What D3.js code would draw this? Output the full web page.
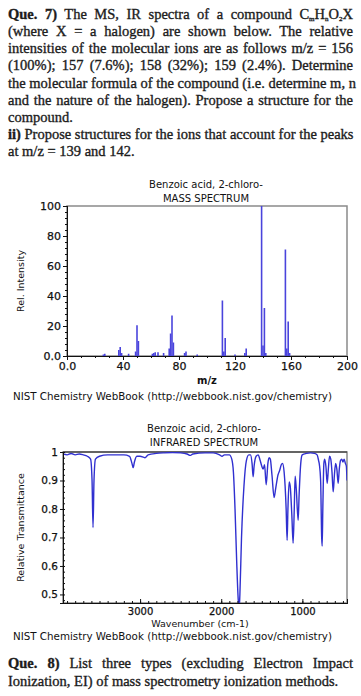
<!DOCTYPE html>
<html>
<head>
<meta charset="utf-8">
<script src="https://cdn.jsdelivr.net/npm/d3@7"></script>
<style>
    body { margin: 0; background: #fff; }
    #page { position: relative; width: 361px; height: 696px; overflow: hidden; background: #fff; }
    .q {
        position: absolute; left: 8px; width: 345px;
        font-family: "Liberation Serif", "Times New Roman", serif;
        font-size: 14.5px; line-height: 17px; color: #1c1c1c;
        -webkit-text-stroke: 0.35px #1c1c1c;
        white-space: nowrap; text-align: justify; text-align-last: justify;
    }
    .q.left { text-align-last: left; }
    .q b { font-weight: bold; }
    .q sub { font-size: 7px; vertical-align: -2px; line-height: 0; }
    svg { position: absolute; left: 0; top: 0; }
    .ax text { font-family: "DejaVu Sans", Verdana, sans-serif; fill: #111; stroke: #111; stroke-width: 0.25px; }
    .ax path, .ax line { stroke: #111; }
    .lbl { font-family: "DejaVu Sans", Verdana, sans-serif; fill: #111; }
</style>
</head>
<body>
<div id="page">
    <div class="q" style="top:6px"><b>Que. 7)</b> The MS, IR spectra of a compound C<sub>m</sub>H<sub>n</sub>O<sub>2</sub>X</div>
    <div class="q" style="top:23px">(where X = a halogen) are shown below. The relative</div>
    <div class="q" style="top:40px">intensities of the molecular ions are as follows m/z = 156</div>
    <div class="q" style="top:57px">(100%); 157 (7.6%); 158 (32%); 159 (2.4%). Determine</div>
    <div class="q" style="top:75px">the molecular formula of the compound (i.e. determine m, n</div>
    <div class="q" style="top:92px">and the nature of the halogen). Propose a structure for the</div>
    <div class="q left" style="top:109px">compound.</div>
    <div class="q" style="top:126px"><b>ii)</b> Propose structures for the ions that account for the peaks</div>
    <div class="q left" style="top:143px">at m/z = 139 and 142.</div>

    <div class="q" style="top:655px"><b>Que. 8)</b> List three types (excluding Electron Impact</div>
    <div class="q left" style="top:673px">Ionization, EI) of mass spectrometry ionization methods.</div>
</div>
<script>
// Mass spectrum: m/z and relative intensity (%)
const msMz = [26, 27, 37, 38, 39, 44, 49, 50, 51, 61, 62, 63, 65, 69, 73, 74, 75, 76, 84, 85, 93,
    111, 112, 113, 120, 127, 128, 139, 140, 141, 142, 156, 157, 158, 159];
const msIntensity = [1, 1.5, 4, 6, 2, 1.5, 3, 20.5, 10, 1.5, 2, 2.5, 2.5, 2, 5, 15, 27, 9, 2, 3, 1,
    37, 3, 12, 1, 2, 5, 100, 7, 32, 2, 71, 5, 23, 2];
const msYTicks = [0, 20, 40, 60, 80, 100];
const msXTicks = [0, 40, 80, 120, 160, 200];

// Infrared spectrum: wavenumber (cm-1) and relative transmittance
const irWavenumber = [3950, 3900, 3850, 3800, 3750, 3700, 3650, 3610, 3592, 3580, 3568, 3550, 3500, 3400,
    3300, 3200, 3130, 3100, 3086, 3070, 3040, 3000, 2960, 2940, 2900, 2800, 2700, 2600, 2500, 2420,
    2384, 2350, 2200, 2100, 2020, 1990, 1960, 1900, 1870, 1850, 1830, 1810, 1790, 1779, 1770, 1750,
    1720, 1690, 1660, 1640, 1620, 1607, 1595, 1570, 1545, 1520, 1500, 1483, 1466, 1446, 1425, 1410,
    1395, 1375, 1348, 1330, 1300, 1280, 1260, 1245, 1225, 1200, 1188, 1178, 1163, 1150, 1130, 1114,
    1100, 1089, 1075, 1052, 1040, 1020, 1002, 950, 900, 850, 818, 800, 790, 775, 762, 756, 748, 735,
    725, 710, 694, 680, 665, 650, 635, 620, 605, 590, 575, 559, 545, 530, 515, 500, 485, 470, 458, 450];
const irTransmittance = [0.993, 0.99, 0.995, 0.99, 0.993, 0.99, 0.985, 0.975, 0.9, 0.735, 0.9, 0.975, 0.985, 0.99,
    0.99, 0.99, 0.985, 0.96, 0.945, 0.965, 0.985, 0.985, 0.982, 0.98, 0.99, 0.995, 0.997, 0.998, 0.997, 0.993,
    0.988, 0.993, 0.997, 0.997, 0.99, 0.985, 0.99, 0.99, 0.975, 0.93, 0.8, 0.62, 0.48, 0.45, 0.5, 0.7,
    0.88, 0.97, 0.99, 0.99, 0.96, 0.913, 0.95, 0.985, 0.99, 0.97, 0.95, 0.94, 0.955, 0.885, 0.96, 0.98,
    0.975, 0.92, 0.84, 0.87, 0.92, 0.935, 0.955, 0.96, 0.93, 0.8, 0.69, 0.8, 0.895, 0.88, 0.78, 0.68,
    0.8, 0.915, 0.87, 0.76, 0.85, 0.96, 0.99, 0.995, 0.997, 0.995, 0.99, 0.97, 0.955, 0.9, 0.7, 0.67, 0.8, 0.96,
    0.975, 0.95, 0.89, 0.94, 0.985, 0.975, 0.93, 0.86, 0.92, 0.96, 0.94, 0.89, 0.94, 0.97, 0.975, 0.965, 0.975, 0.96, 0.95, 0.9];
const irYTicks = [0.5, 0.6, 0.7, 0.8, 0.9, 1];
const irXTicks = [3000, 2000, 1000];

const svg = d3.select('#page').append('svg')
    .attr('width', 361)
    .attr('height', 696);

const caption = 'NIST Chemistry WebBook (http://webbook.nist.gov/chemistry)';

// ---------- MASS SPECTRUM ----------
const msX = d3.scaleLinear().domain([0, 200]).range([67, 347]);
const msY = d3.scaleLinear().domain([0, 100]).range([356, 206]);

svg.append('text').attr('class', 'lbl').attr('x', 206).attr('y', 188)
    .attr('text-anchor', 'middle').style('font-size', '10px').text('Benzoic acid, 2-chloro-');
svg.append('text').attr('class', 'lbl').attr('x', 206).attr('y', 202)
    .attr('text-anchor', 'middle').style('font-size', '10px').text('MASS SPECTRUM');

// gray frame
svg.append('rect')
    .attr('x', msX(0)).attr('y', msY(100))
    .attr('width', msX(200) - msX(0)).attr('height', msY(0) - msY(100))
    .attr('fill', 'none').attr('stroke', '#8a8a8a').attr('stroke-width', 1.5);

// peaks
svg.append('g').selectAll('line')
    .data(msMz)
    .join('line')
    .attr('x1', d => msX(d)).attr('x2', d => msX(d))
    .attr('y1', msY(0))
    .attr('y2', (d, i) => msY(msIntensity[i]))
    .attr('stroke', '#4a44dc')
    .attr('stroke-width', 1.6);

// axes
const fmtMs = d => d === 0 ? '0.0' : d;
svg.append('g').attr('class', 'ax').style('font-size', '11px').attr('transform', `translate(${msX(0)},0)`)
    .call(d3.axisLeft(msY).tickValues(msYTicks).tickSize(4).tickPadding(2).tickFormat(fmtMs))
    .selectAll('text').style('font-size', '11px');
svg.append('g').attr('class', 'ax').attr('transform', `translate(${msX(0)},0)`)
    .call(d3.axisLeft(msY).tickValues(d3.range(0, 101, 4)).tickSize(2).tickFormat(''));
svg.append('g').attr('class', 'ax').attr('transform', `translate(0,${msY(0)})`)
    .call(d3.axisBottom(msX).tickValues(msXTicks).tickSize(4).tickPadding(2).tickFormat(fmtMs))
    .selectAll('text').style('font-size', '11px');
svg.append('g').attr('class', 'ax').attr('transform', `translate(0,${msY(0)})`)
    .call(d3.axisBottom(msX).tickValues(d3.range(0, 201, 10)).tickSize(2).tickFormat(''));

svg.append('text').attr('class', 'lbl')
    .attr('transform', `translate(24,${(msY(0) + msY(100)) / 2}) rotate(-90)`)
    .attr('text-anchor', 'middle').style('font-size', '9.5px').text('Rel. Intensity');
svg.append('text').attr('class', 'lbl').attr('x', 207).attr('y', 384)
    .attr('text-anchor', 'middle').style('font-size', '10px').style('font-weight', 'bold').text('m/z');
svg.append('text').attr('class', 'lbl').attr('x', 13).attr('y', 400)
    .style('font-size', '10.3px').text(caption);

// ---------- INFRARED SPECTRUM ----------
const irX = d3.scaleLinear().domain([3950, 450]).range([63, 347]);
const irY = d3.scaleLinear().domain([0.47, 1]).range([603, 452]);

svg.append('text').attr('class', 'lbl').attr('x', 204).attr('y', 432)
    .attr('text-anchor', 'middle').style('font-size', '10px').text('Benzoic acid, 2-chloro-');
svg.append('text').attr('class', 'lbl').attr('x', 204).attr('y', 446)
    .attr('text-anchor', 'middle').style('font-size', '10px').text('INFRARED SPECTRUM');

svg.append('clipPath').attr('id', 'irClip')
    .append('rect')
    .attr('x', irX(3950)).attr('y', irY(1))
    .attr('width', irX(450) - irX(3950)).attr('height', irY(0.47) - irY(1));

svg.append('rect')
    .attr('x', irX(3950)).attr('y', irY(1))
    .attr('width', irX(450) - irX(3950)).attr('height', irY(0.47) - irY(1))
    .attr('fill', 'none').attr('stroke', '#8a8a8a').attr('stroke-width', 1.5);
svg.append('line')
    .attr('x1', irX(3950)).attr('x2', irX(450)).attr('y1', irY(1)).attr('y2', irY(1))
    .attr('stroke', '#222').attr('stroke-width', 1.2);

const irLine = d3.line()
    .x((d, i) => irX(irWavenumber[i]))
    .y((d, i) => irY(irTransmittance[i]))
    .curve(d3.curveMonotoneX);

svg.append('path')
    .datum(irWavenumber)
    .attr('clip-path', 'url(#irClip)')
    .attr('d', irLine)
    .attr('fill', 'none')
    .attr('stroke', '#3030d0')
    .attr('stroke-width', 1.4);

const fmtIr = d => d === 1 ? '1' : d3.format('.1f')(d);
svg.append('g').attr('class', 'ax').attr('transform', `translate(${irX(3950)},0)`)
    .call(d3.axisLeft(irY).tickValues(irYTicks).tickSize(3).tickPadding(2).tickFormat(fmtIr))
    .selectAll('text').style('font-size', '10.5px');
svg.append('g').attr('class', 'ax').attr('transform', `translate(${irX(3950)},0)`)
    .call(d3.axisLeft(irY).tickValues(d3.range(0.48, 1.001, 0.02)).tickSize(-2).tickFormat(''));
svg.append('g').attr('class', 'ax').attr('transform', `translate(0,${irY(0.47)})`)
    .call(d3.axisBottom(irX).tickValues(irXTicks).tickSize(-4).tickPadding(5).tickFormat(d => d))
    .selectAll('text').style('font-size', '10px');
svg.append('g').attr('class', 'ax').attr('transform', `translate(0,${irY(0.47)})`)
    .call(d3.axisBottom(irX).tickValues(d3.range(500, 3901, 100)).tickSize(-2).tickFormat(''));

svg.append('text').attr('class', 'lbl')
    .attr('transform', `translate(24,${(irY(0.47) + irY(1)) / 2}) rotate(-90)`)
    .attr('text-anchor', 'middle').style('font-size', '9.5px').text('Relative Transmittance');
svg.append('text').attr('class', 'lbl').attr('x', 200).attr('y', 627)
    .attr('text-anchor', 'middle').style('font-size', '9.5px').text('Wavenumber (cm-1)');
svg.append('text').attr('class', 'lbl').attr('x', 13).attr('y', 640)
    .style('font-size', '10.3px').text(caption);
</script>
</body>
</html>
